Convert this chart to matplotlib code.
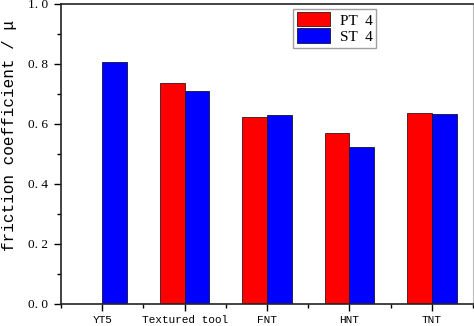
import numpy as np
import matplotlib
matplotlib.use('Agg')
import matplotlib.pyplot as plt
from matplotlib.ticker import MultipleLocator

# valores
categorias = ['YT5', 'Textured tool', 'FNT', 'HNT', 'TNT']
pt4 = [0.0, 0.736, 0.623, 0.570, 0.636]
st4 = [0.806, 0.711, 0.629, 0.522, 0.632]
rotulos_y = ['0. 0', '0. 2', '0. 4', '0. 6', '0. 8', '1. 0']

fig = plt.figure(figsize=(4.74, 3.26), dpi=100)
ax = fig.add_axes([61/474, 22/326, 412/474, 300/326])

x = np.arange(len(categorias))
larg = 0.3
ax.bar(x - larg, pt4, larg, align='edge', color='#ff0000', edgecolor='#401010',
	linewidth=0.6, label='PT  4')
ax.bar(x, st4, larg, align='edge', color='#0000ff', edgecolor='#101040',
	linewidth=0.6, label='ST  4')

ax.set_xlim(-0.5, 4.5)
ax.set_ylim(0, 1.0)
ax.set_xticks(x)
ax.set_xticklabels(categorias, family='Liberation Mono', fontsize=8)
ax.xaxis.set_minor_locator(MultipleLocator(0.5))
ax.set_yticks([0, 0.2, 0.4, 0.6, 0.8, 1.0])
ax.set_yticklabels(rotulos_y, family='Liberation Serif', fontsize=9.5)
ax.yaxis.set_minor_locator(MultipleLocator(0.1))
ax.tick_params(which='major', direction='out', length=5, width=1, pad=3)
ax.tick_params(axis='y', which='major', pad=4.5)
ax.tick_params(which='minor', direction='out', length=3, width=1)
ax.set_ylabel('friction coefficient / μ', family='Liberation Mono',
	fontsize=11.5)
ax.yaxis.set_label_coords(-0.108, 0.563)

for s in ['left', 'bottom', 'top']:
	ax.spines[s].set_color('#222222')
	ax.spines[s].set_linewidth(1.2)
ax.spines['right'].set_color('#bbbbbb')

leg = ax.legend(loc='upper left', bbox_to_anchor=(0.563, 0.985),
	borderaxespad=0, borderpad=0.25, handlelength=2.2, handleheight=1.05,
	labelspacing=0.05, handletextpad=0.6, fancybox=False,
	prop={'family': 'Liberation Serif', 'size': 11})
leg.get_frame().set_edgecolor('#888888')
leg.get_frame().set_linewidth(1.0)

plt.savefig('out.png', dpi=100)
plt.close()
